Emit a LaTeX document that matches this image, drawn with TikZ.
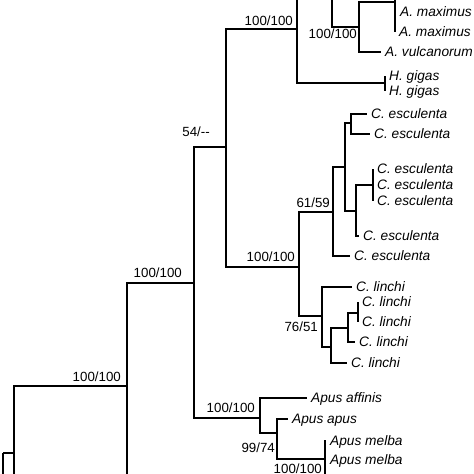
\documentclass[tikz,border=0pt]{standalone}
\usepackage{fontspec}
\setmainfont{Liberation Sans}
\tikzset{
	ast/.style={line width=2pt},
	taxon/.style={anchor=west,inner xsep=4pt,inner ysep=0pt,font=\fontsize{13.7}{15}\selectfont\itshape,text height=9.8pt,text depth=0pt},
	stuetze/.style={anchor=east,inner sep=0pt,font=\fontsize{13.3}{15}\selectfont,text height=9.6pt,text depth=0pt}
}
\begin{document}
\begin{tikzpicture}
	\clip (0,0) rectangle (474pt,474pt);
	\begin{scope}[x=1pt,y=-1pt,yshift=474pt]
		% Verzweigungen
		\coordinate (A) at (3,453);
		\coordinate (B) at (14,453);
		\coordinate (C) at (127,386);
		\coordinate (D) at (194,283);
		\coordinate (E) at (226,147);
		\coordinate (G) at (297,29);
		\coordinate (I) at (332,-5);
		\coordinate (J) at (359,27);
		\coordinate (K) at (395,2);
		\coordinate (Hg) at (385,83);
		\coordinate (H) at (299,267);
		\coordinate (L) at (333,212);
		\coordinate (N) at (345,167);
		\coordinate (O) at (351,123);
		\coordinate (P) at (356,211);
		\coordinate (Q) at (373,185);
		\coordinate (M) at (322,316);
		\coordinate (R) at (331,347);
		\coordinate (S) at (348,328);
		\coordinate (T) at (358,313);
		\coordinate (F) at (260,418);
		\coordinate (U) at (277,433);
		\coordinate (V) at (325,459);
		% Taxa
		\node[taxon] (am1) at (396,12) {A. maximus};
		\node[taxon] (am2) at (395,32) {A. maximus};
		\node[taxon] (av) at (381,52) {A. vulcanorum};
		\node[taxon] (hg1) at (385,76) {H. gigas};
		\node[taxon] (hg2) at (385,91) {H. gigas};
		\node[taxon] (ce1) at (367,114) {C. esculenta};
		\node[taxon] (ce2) at (370,134) {C. esculenta};
		\node[taxon] (ce3) at (373,169) {C. esculenta};
		\node[taxon] (ce4) at (373,185) {C. esculenta};
		\node[taxon] (ce5) at (373,201) {C. esculenta};
		\node[taxon] (ce6) at (359,236) {C. esculenta};
		\node[taxon] (ce7) at (350,256) {C. esculenta};
		\node[taxon] (cl1) at (352,287) {C. linchi};
		\node[taxon] (cl2) at (358,302) {C. linchi};
		\node[taxon] (cl3) at (358,322) {C. linchi};
		\node[taxon] (cl4) at (355,342) {C. linchi};
		\node[taxon] (cl5) at (347,363) {C. linchi};
		\node[taxon] (aa) at (307,398) {Apus affinis};
		\node[taxon] (ap) at (288,419) {Apus apus};
		\node[taxon] (am3) at (326,441) {Apus melba};
		\node[taxon] (am4) at (326,460) {Apus melba};
		% Stuetzwerte
		\node[stuetze] (s1) at (121,377) {100/100};
		\node[stuetze] (s2) at (182,273) {100/100};
		\node[stuetze] (s3) at (210,132) {54/{-}{-}};
		\node[stuetze] (s4) at (293,21) {100/100};
		\node[stuetze] (s5) at (295,257) {100/100};
		\node[stuetze] (s6) at (255,408) {100/100};
		\node[stuetze] (s7) at (330,203) {61/59};
		\node[stuetze] (s8) at (357,34) {100/100};
		\node[stuetze] (s9) at (318,327) {76/51};
		\node[stuetze] (s10) at (275,448) {99/74};
		\node[stuetze] (s11) at (322,469) {100/100};
		% Aeste
		\draw [ast] (A) -- (3,480);
		\draw [ast] (A) -- (B);
		\draw [ast] (B) |- (C);
		\draw [ast] (B) -- (14,480);
		\draw [ast] (C) |- (D);
		\draw [ast] (C) -- (127,480);
		\draw [ast] (D) |- (E);
		\draw [ast] (D) |- (F);
		\draw [ast] (E) |- (G);
		\draw [ast] (E) |- (H);
		\draw [ast] (G) -- (297,-5);
		\draw [ast] (G) |- (Hg);
		\draw [ast] (I) |- (J);
		\draw [ast] (J) |- (K);
		\draw [ast] (J) |- (av.west);
		\draw [ast] (K) -- (395,-5);
		\draw [ast] (K) |- (am1.west);
		\draw [ast] (K) |- (am2.west);
		\draw [ast] (Hg) |- (hg1.west);
		\draw [ast] (Hg) |- (hg2.west);
		\draw [ast] (H) |- (L);
		\draw [ast] (H) |- (M);
		\draw [ast] (L) |- (N);
		\draw [ast] (L) |- (ce7.west);
		\draw [ast] (N) |- (O);
		\draw [ast] (N) |- (P);
		\draw [ast] (O) |- (ce1.west);
		\draw [ast] (O) |- (ce2.west);
		\draw [ast] (P) |- (Q);
		\draw [ast] (P) |- (ce6.west);
		\draw [ast] (Q) |- (ce3.west);
		\draw [ast] (Q) |- (ce5.west);
		\draw [ast] (M) |- (cl1.west);
		\draw [ast] (M) |- (R);
		\draw [ast] (R) |- (S);
		\draw [ast] (R) |- (cl5.west);
		\draw [ast] (S) |- (T);
		\draw [ast] (S) |- (cl4.west);
		\draw [ast] (T) |- (cl2.west);
		\draw [ast] (T) |- (cl3.west);
		\draw [ast] (F) |- (aa.west);
		\draw [ast] (F) |- (U);
		\draw [ast] (U) |- (ap.west);
		\draw [ast] (U) |- (V);
		\draw [ast] (V) |- (am3.west);
		\draw [ast] (V) -- (325,480);
	\end{scope}
\end{tikzpicture}
\end{document}
